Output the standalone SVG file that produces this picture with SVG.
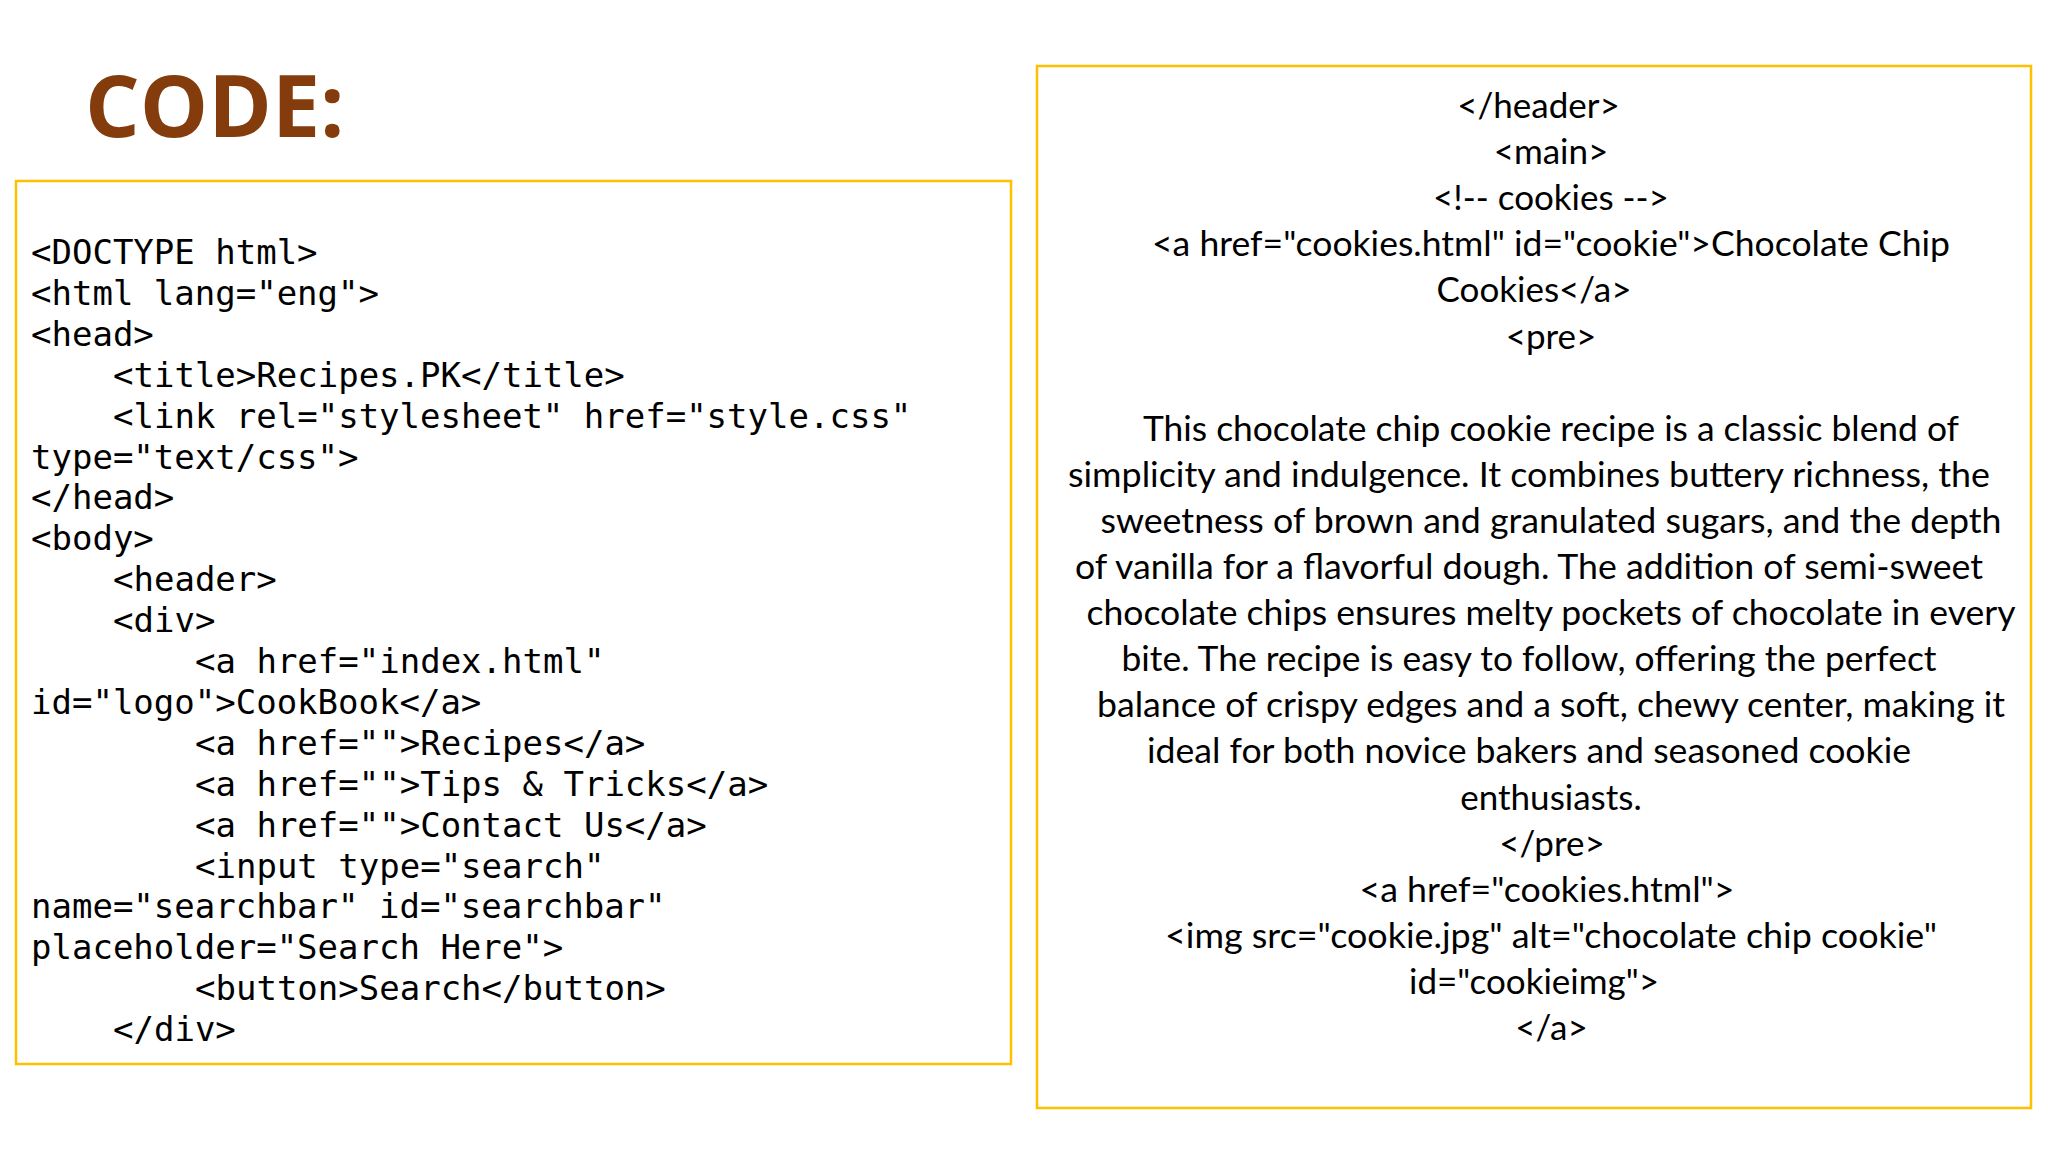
<svg xmlns="http://www.w3.org/2000/svg" width="2048" height="1152" viewBox="0 0 2048 1152">
  <style>
    .box { fill: #FFFFFF; stroke: #FFC000; stroke-width: 2.5; }
    .title { font-family: "Open Sans", "Noto Sans", sans-serif; font-weight: 700; font-size: 86px; fill: #843C0C; }
    .mono { font-family: "DejaVu Sans Mono", "Liberation Mono", monospace; font-size: 34px; fill: #000000; }
    .prose { font-family: Lato, "Liberation Sans", sans-serif; font-size: 35px; fill: #000000; text-anchor: middle; }
  </style>
  <rect x="0" y="0" width="2048" height="1152" fill="#FFFFFF"/>
  <g id="title">
    <text class="title" x="85" y="137">CODE:</text>
  </g>
  <g id="left-code">
    <rect class="box" x="16" y="181" width="995" height="883"/>
    <text class="mono" x="31" y="264">&lt;DOCTYPE html&gt;</text>
    <text class="mono" x="31" y="304.9">&lt;html lang="eng"&gt;</text>
    <text class="mono" x="31" y="345.8">&lt;head&gt;</text>
    <text class="mono" x="113" y="386.7">&lt;title&gt;Recipes.PK&lt;/title&gt;</text>
    <text class="mono" x="113" y="427.6">&lt;link rel="stylesheet" href="style.css"</text>
    <text class="mono" x="31" y="468.5">type="text/css"&gt;</text>
    <text class="mono" x="31" y="509.4">&lt;/head&gt;</text>
    <text class="mono" x="31" y="550.3">&lt;body&gt;</text>
    <text class="mono" x="113" y="591.2">&lt;header&gt;</text>
    <text class="mono" x="113" y="632.1">&lt;div&gt;</text>
    <text class="mono" x="195" y="673">&lt;a href="index.html"</text>
    <text class="mono" x="31" y="713.9">id="logo"&gt;CookBook&lt;/a&gt;</text>
    <text class="mono" x="195" y="754.8">&lt;a href=""&gt;Recipes&lt;/a&gt;</text>
    <text class="mono" x="195" y="795.7">&lt;a href=""&gt;Tips &amp; Tricks&lt;/a&gt;</text>
    <text class="mono" x="195" y="836.6">&lt;a href=""&gt;Contact Us&lt;/a&gt;</text>
    <text class="mono" x="195" y="877.5">&lt;input type="search"</text>
    <text class="mono" x="31" y="918.4">name="searchbar" id="searchbar"</text>
    <text class="mono" x="31" y="959.3">placeholder="Search Here"&gt;</text>
    <text class="mono" x="195" y="1000.2">&lt;button&gt;Search&lt;/button&gt;</text>
    <text class="mono" x="113" y="1041.1">&lt;/div&gt;</text>
  </g>
  <g id="right-code">
    <rect class="box" x="1037" y="66" width="994" height="1042"/>
    <text class="prose" x="1538.5" y="118">&lt;/header&gt;</text>
    <text class="prose" x="1551" y="164.1">&lt;main&gt;</text>
    <text class="prose" x="1551" y="210.2">&lt;!-- cookies --&gt;</text>
    <text class="prose" x="1551" y="256.3" textLength="798" lengthAdjust="spacingAndGlyphs">&lt;a href="cookies.html" id="cookie"&gt;Chocolate Chip</text>
    <text class="prose" x="1534" y="302.4">Cookies&lt;/a&gt;</text>
    <text class="prose" x="1551" y="348.5">&lt;pre&gt;</text>
    <text class="prose" x="1551" y="440.7" textLength="816" lengthAdjust="spacingAndGlyphs">This chocolate chip cookie recipe is a classic blend of</text>
    <text class="prose" x="1529" y="486.8" textLength="922" lengthAdjust="spacingAndGlyphs">simplicity and indulgence. It combines buttery richness, the</text>
    <text class="prose" x="1551" y="532.9" textLength="901" lengthAdjust="spacingAndGlyphs">sweetness of brown and granulated sugars, and the depth</text>
    <text class="prose" x="1529" y="579" textLength="908" lengthAdjust="spacingAndGlyphs">of vanilla for a flavorful dough. The addition of semi-sweet</text>
    <text class="prose" x="1551" y="625.1" textLength="929" lengthAdjust="spacingAndGlyphs">chocolate chips ensures melty pockets of chocolate in every</text>
    <text class="prose" x="1529" y="671.2" textLength="815" lengthAdjust="spacingAndGlyphs">bite. The recipe is easy to follow, offering the perfect</text>
    <text class="prose" x="1551" y="717.3" textLength="908" lengthAdjust="spacingAndGlyphs">balance of crispy edges and a soft, chewy center, making it</text>
    <text class="prose" x="1529" y="763.4" textLength="764" lengthAdjust="spacingAndGlyphs">ideal for both novice bakers and seasoned cookie</text>
    <text class="prose" x="1551" y="809.5">enthusiasts.</text>
    <text class="prose" x="1552" y="855.6">&lt;/pre&gt;</text>
    <text class="prose" x="1547" y="901.7" textLength="375" lengthAdjust="spacingAndGlyphs">&lt;a href="cookies.html"&gt;</text>
    <text class="prose" x="1551" y="947.8" textLength="772" lengthAdjust="spacingAndGlyphs">&lt;img src="cookie.jpg" alt="chocolate chip cookie"</text>
    <text class="prose" x="1534" y="993.9">id="cookieimg"&gt;</text>
    <text class="prose" x="1551.5" y="1040">&lt;/a&gt;</text>
  </g>
</svg>
